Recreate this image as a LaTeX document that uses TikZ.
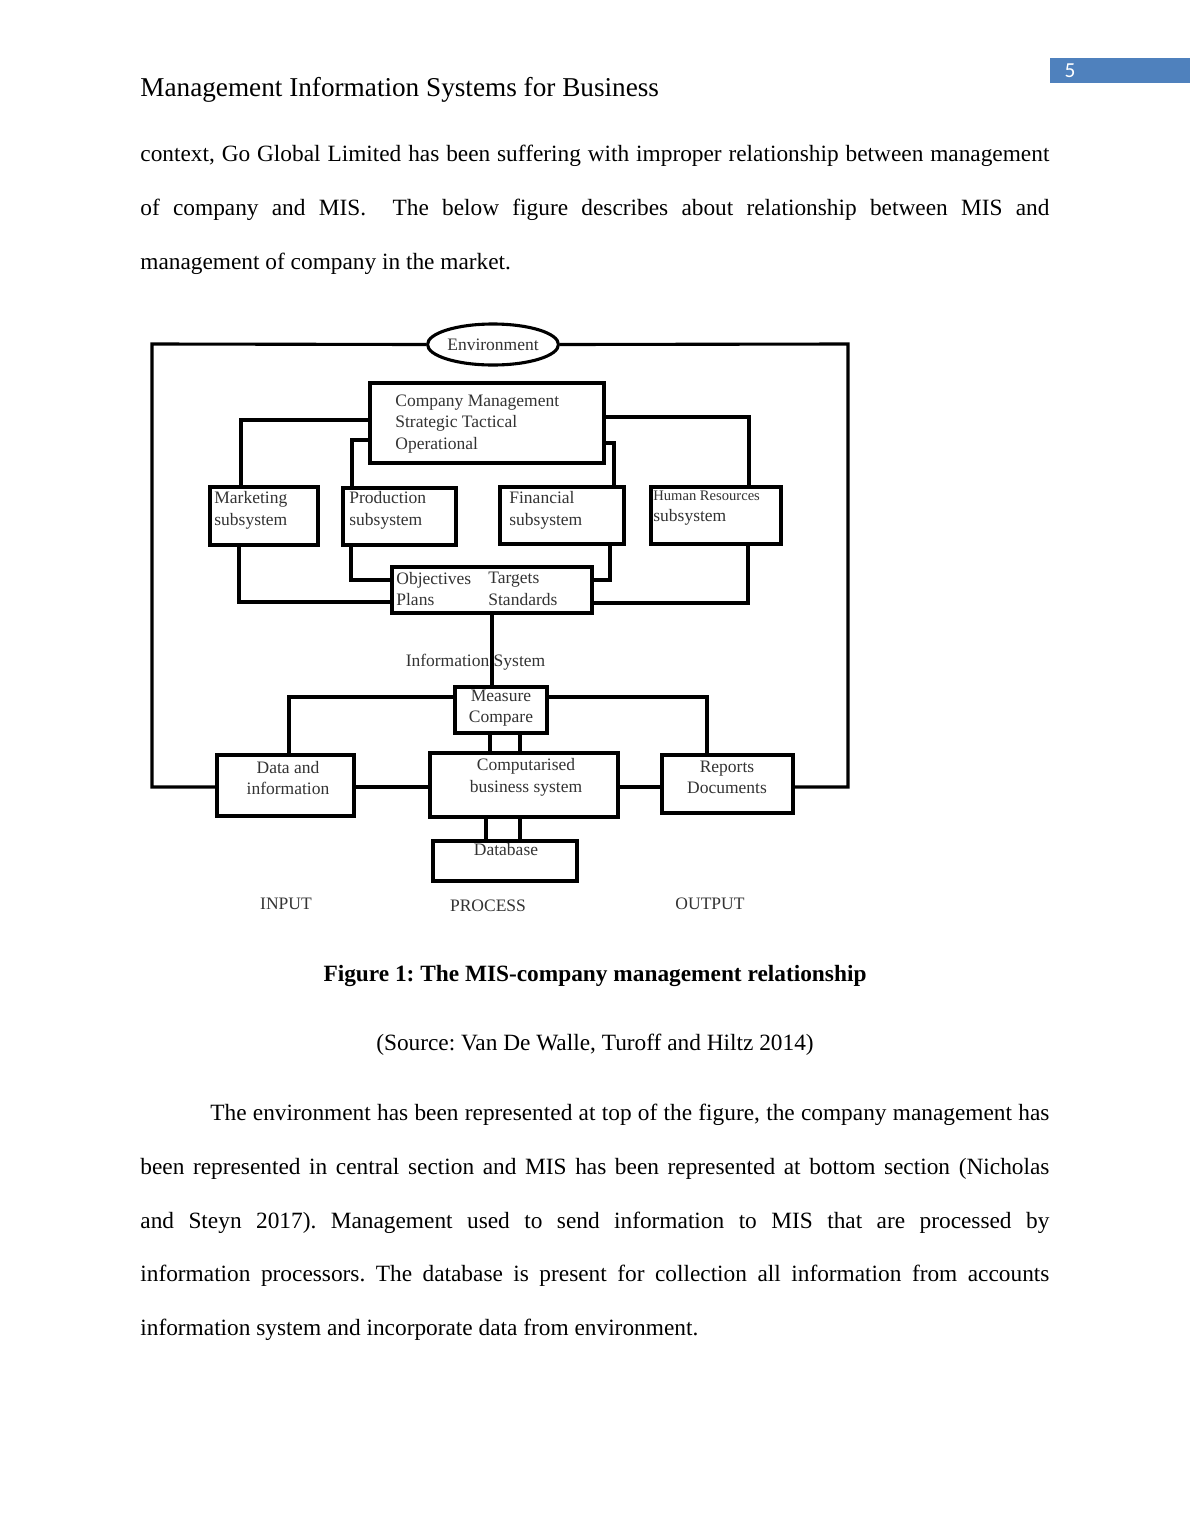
\documentclass[tikz,border=0pt]{standalone}
\usepackage{fontspec}
\setmainfont{Liberation Serif}
\newfontfamily\calib{Carlito}
\usetikzlibrary{shapes.geometric}
\newdimen\px \px=0.5143pt
\definecolor{pgblue}{HTML}{4F81BD}
\definecolor{dgray}{HTML}{333333}
\newcommand{\dfont}{\fontsize{9pt}{11pt}\selectfont}
\newcommand{\bfontsz}{\fontsize{12pt}{14pt}\selectfont}
\frenchspacing
\tikzset{
  box/.style={draw, line width=1.6pt, inner sep=0pt, rectangle},
  con/.style={line width=1.6pt, line join=miter},
  dtxt/.style={inner sep=0pt, font=\dfont, text=dgray},
  body/.style={inner sep=0pt, anchor=base west, font=\bfontsz},
}
\begin{document}
\begin{tikzpicture}[x=0.5143pt, y=-0.5143pt]
\useasboundingbox (0,0) rectangle (1190,1540);
\fill[white] (0,0) rectangle (1190,1540);
% header
\fill[pgblue] (1050,58) rectangle (1190,83);
\node[inner sep=0pt, text=white, font=\calib\fontsize{11pt}{13pt}\selectfont] (pgno) at (1070,70.5) {5};
\node[body, font=\fontsize{14pt}{16pt}\selectfont] (head) at (140,96) {Management Information Systems for Business};
% top paragraph
\node[body] (t1) at (140,161) {\makebox[467.5pt][s]{context, Go Global Limited has been suffering with improper relationship between management}};
\node[body] (t2) at (140,215) {\makebox[467.5pt][s]{of company and MIS.\ \ The below figure describes about relationship between MIS and}};
\node[body] (t3) at (140,269) {management of company in the market.};

% ---------- diagram ----------
\node[ellipse, draw, line width=1.6pt, minimum width=131\px, minimum height=41\px, inner sep=0pt, font=\dfont, text=dgray] (env) at (493,344.5) {Environment};
\node[box, minimum width=234\px, minimum height=80\px] (cm) at (487,423) {};
\node[dtxt, anchor=west, align=left] (cmt) at (395,424) {Company Management\\Strategic Tactical\\Operational};
\node[box, minimum width=108\px, minimum height=58\px] (mk) at (264,516) {};
\node[dtxt, anchor=west, align=left] (mkt) at (214,510.5) {Marketing\\subsystem};
\node[box, minimum width=113\px, minimum height=57\px] (pr) at (399.5,516.5) {};
\node[dtxt, anchor=west, align=left] (prt) at (349,510.5) {Production\\subsystem};
\node[box, minimum width=124\px, minimum height=57\px] (fi) at (562,515.5) {};
\node[dtxt, anchor=west, align=left] (fit) at (509,510.5) {Financial\\subsystem};
\node[box, minimum width=130\px, minimum height=57\px] (hr) at (716,515.5) {};
\node[dtxt, anchor=west, align=left] (hrt) at (653,508) {{\fontsize{7.5pt}{9pt}\selectfont Human Resources}\\subsystem};
\node[box, minimum width=200\px, minimum height=46\px] (ob) at (492,590) {};
\node[dtxt, anchor=west, align=left] (obl) at (396,589) {Objectives\\Plans};
\node[dtxt, anchor=west, align=left] (obr) at (488,589) {Targets\\Standards};
\node[box, minimum width=92\px, minimum height=46\px] (ms) at (501,710) {};
\node[dtxt, align=center] (mst) at (501,708) {Measure\\Compare};
\node[box, minimum width=137\px, minimum height=61\px] (da) at (285.5,785.5) {};
\node[dtxt, align=center] (dat) at (288,778) {Data and\\information};
\node[box, minimum width=188\px, minimum height=64\px] (cp) at (524,785) {};
\node[dtxt, align=center] (cpt) at (526,777.5) {Computarised\\business system};
\node[box, minimum width=131\px, minimum height=58\px] (rp) at (727.5,784) {};
\node[dtxt, align=center] (rpt) at (727,777.5) {Reports\\Documents};
\node[box, minimum width=144\px, minimum height=40\px] (db) at (505,861) {};
\node[dtxt] (dbt) at (506,850) {Database};
\node[dtxt] (ist) at (475.5,662) {Information System};
\node[dtxt] (inp) at (286,904) {INPUT};
\node[dtxt] (proc) at (488,906) {PROCESS};
\node[dtxt] (outp) at (710,904) {OUTPUT};

% coordinates for connectors
\coordinate (oTL) at (152,344);
\coordinate (oTR) at (848,344);
\coordinate (oBL) at (152,787);
\coordinate (oBR) at (848,787);
\coordinate (k1) at (241,420);
\coordinate (k2) at (749,417);
\coordinate (k3) at (352,440);
\coordinate (k4) at (614,443);
\coordinate (k5) at (351,580);
\coordinate (k6) at (610,580);
\coordinate (k7) at (239,602);
\coordinate (k8) at (748,603);
\coordinate (k9) at (492,650);
\coordinate (k10) at (289,697);
\coordinate (k11) at (707,697);
\coordinate (k12) at (490,743);
\coordinate (k13) at (520,743);
\coordinate (k14) at (486,829);
\coordinate (k15) at (520,829);

\draw[con] (env.west) -- (oTL) -- (oBL) -- (da.west |- oBL);
\draw[con] (env.east) -- (oTR) -- (oBR) -- (rp.east |- oBR);
\draw[con] (cm.west |- k1) -- (k1) -- (mk.north -| k1);
\draw[con] (cm.east |- k2) -- (k2) -- (hr.north -| k2);
\draw[con] (cm.west |- k3) -- (k3) -- (pr.north -| k3);
\draw[con] (cm.east |- k4) -- (k4) -- (fi.north -| k4);
\draw[con] (pr.south -| k5) -- (k5) -- (ob.west |- k5);
\draw[con] (fi.south -| k6) -- (k6) -- (ob.east |- k6);
\draw[con] (mk.south -| k7) -- (k7) -- (ob.west |- k7);
\draw[con] (hr.south -| k8) -- (k8) -- (ob.east |- k8);
\draw[con] (ob.south -| k9) -- (ms.north -| k9);
\draw[con] (ms.west |- k10) -- (k10) -- (da.north -| k10);
\draw[con] (ms.east |- k11) -- (k11) -- (rp.north -| k11);
\draw[con] (ms.south -| k12) -- (cp.north -| k12);
\draw[con] (ms.south -| k13) -- (cp.north -| k13);
\draw[con] (da.east |- oBL) -- (cp.west |- oBL);
\draw[con] (cp.east |- oBL) -- (rp.west |- oBL);
\draw[con] (cp.south -| k14) -- (db.north -| k14);
\draw[con] (cp.south -| k15) -- (db.north -| k15);

% caption
\node[inner sep=0pt, anchor=base, font=\bfontsz\bfseries] (cap) at (595,981) {Figure 1: The MIS-company management relationship};
\node[inner sep=0pt, anchor=base, font=\bfontsz] (src) at (595,1050) {(Source: Van De Walle, Turoff and Hiltz 2014)};

% bottom paragraph
\node[body] (p1) at (210,1120) {\makebox[431.5pt][s]{The environment has been represented at top of the figure, the company management has}};
\node[body] (p2) at (140,1174) {\makebox[467.5pt][s]{been represented in central section and MIS has been represented at bottom section (Nicholas}};
\node[body] (p3) at (140,1228) {\makebox[467.5pt][s]{and Steyn 2017). Management used to send information to MIS that are processed by}};
\node[body] (p4) at (140,1281) {\makebox[467.5pt][s]{information processors. The database is present for collection all information from accounts}};
\node[body] (p5) at (140,1335) {information system and incorporate data from environment.};
\end{tikzpicture}
\end{document}
